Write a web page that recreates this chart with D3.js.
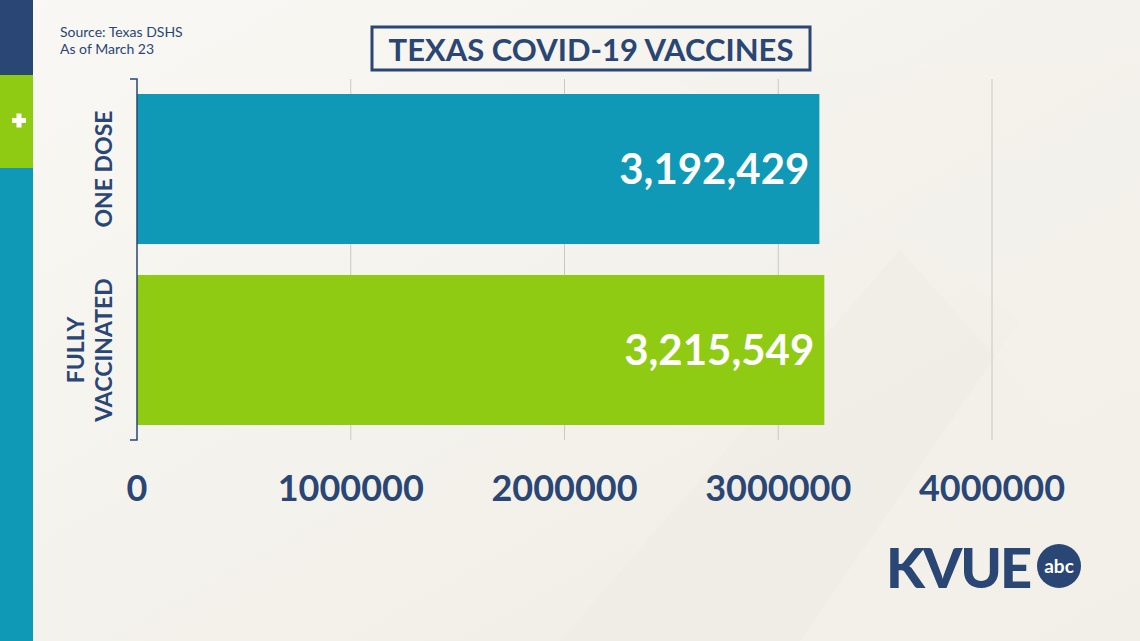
<!DOCTYPE html>
<html><head><meta charset="utf-8">
<script src="https://cdn.jsdelivr.net/npm/d3@7"></script>
<style>body{margin:0;background:#f6f4ef;}svg{display:block;font-family:Lato,"Open Sans",sans-serif;}</style>
</head><body>
<script>
var categories = [['ONE DOSE'], ['FULLY', 'VACCINATED']];
var values = [3192429, 3215549];
var barColors = ['#0f99b6', '#8fcb12'];
var ticks = [0, 1000000, 2000000, 3000000, 4000000];

var navy = '#2a4674';
var svg = d3.select('body').append('svg').attr('width', 1140).attr('height', 641);

// background
var bg = svg.append('defs').append('linearGradient').attr('id', 'bg')
    .attr('x1', '0').attr('y1', '0').attr('x2', '1').attr('y2', '1');
bg.append('stop').attr('offset', '0').attr('stop-color', '#f9f8f4');
bg.append('stop').attr('offset', '1').attr('stop-color', '#efece4');
svg.append('rect').attr('width', 1140).attr('height', 641).attr('fill', 'url(#bg)');
svg.append('path').attr('d', 'M560,641 L900,250 L1140,520 L1140,641 Z').attr('fill', '#efece5').attr('opacity', 0.7);
svg.append('path').attr('d', 'M680,80 L1020,320 L800,641 L1140,641 L1140,60 Z').attr('fill', '#f3f1eb').attr('opacity', 0.6);

// left strip
svg.append('rect').attr('x', 0).attr('y', 0).attr('width', 33).attr('height', 75).attr('fill', '#2a4674');
svg.append('rect').attr('x', 0).attr('y', 75).attr('width', 33).attr('height', 93).attr('fill', '#8fcb12');
svg.append('rect').attr('x', 0).attr('y', 168).attr('width', 33).attr('height', 473).attr('fill', '#0f99b6');
svg.append('path').attr('d', 'M12,118h4.5v-4.5h5v4.5h4.5v5h-4.5v4.5h-5v-4.5h-4.5z').attr('fill', '#fff');

svg.append('text').attr('x', 60).attr('y', 37).attr('font-size', 14).attr('fill', navy).text('Source: Texas DSHS');
svg.append('text').attr('x', 60).attr('y', 54).attr('font-size', 14).attr('fill', navy).text('As of March 23');

// title
svg.append('rect').attr('x', 372).attr('y', 27).attr('width', 438).attr('height', 43)
    .attr('fill', 'none').attr('stroke', navy).attr('stroke-width', 3);
svg.append('text').attr('x', 591).attr('y', 61).attr('text-anchor', 'middle').attr('font-size', 31)
    .attr('font-weight', 'bold').attr('fill', navy).text('TEXAS COVID-19 VACCINES');

var x = d3.scaleLinear().domain([0, 4000000]).range([137, 992]);
var y = d3.scaleBand().domain(d3.range(values.length)).range([94, 425]).paddingInner(0.171).paddingOuter(0);

// gridlines
svg.selectAll('.grid').data(ticks.slice(1)).enter().append('line')
    .attr('x1', x).attr('x2', x).attr('y1', 79).attr('y2', 440)
    .attr('stroke', '#c8c8c8').attr('stroke-width', 1);

svg.selectAll('.bar').data(values).enter().append('rect')
    .attr('x', x(0)).attr('y', function (d, i) { return y(i); })
    .attr('width', function (d) { return x(d) - x(0); }).attr('height', y.bandwidth())
    .attr('fill', function (d, i) { return barColors[i]; });

svg.selectAll('.val').data(values).enter().append('text')
    .attr('x', function (d) { return x(d) - 10; })
    .attr('y', function (d, i) { return y(i) + y.bandwidth() / 2 + 15; })
    .attr('text-anchor', 'end').attr('font-size', 42).attr('font-weight', 'bold').attr('fill', '#fff')
    .text(d3.format(','));

// y axis line
svg.append('path').attr('d', 'M130,79H137V440H130').attr('fill', 'none').attr('stroke', navy).attr('stroke-width', 1.5);

categories.forEach(function (lines, i) {
    var cy = y(i) + y.bandwidth() / 2;
    var t = svg.append('text').attr('transform', 'translate(112,' + cy + ') rotate(-90)')
        .attr('text-anchor', 'middle').attr('font-size', 23).attr('font-weight', 'bold').attr('fill', navy);
    lines.forEach(function (s, j) {
        t.append('tspan').attr('x', 0).attr('dy', j === 0 ? -(lines.length - 1) * 28 : 28).text(s);
    });
});

svg.selectAll('.tick').data(ticks).enter().append('text')
    .attr('x', x).attr('y', 501).attr('text-anchor', 'middle')
    .attr('font-size', 36).attr('font-weight', 'bold').attr('fill', navy).text(String);

// logo
svg.append('text').attr('x', 886).attr('y', 588).attr('font-size', 56).attr('font-weight', 900)
    .attr('fill', navy).attr('letter-spacing', -2).text('KVUE');
svg.append('circle').attr('cx', 1059).attr('cy', 566).attr('r', 22).attr('fill', navy);
svg.append('text').attr('x', 1059).attr('y', 573).attr('text-anchor', 'middle').attr('font-size', 19)
    .attr('font-weight', 'bold').attr('fill', '#fff').text('abc');
</script>
</body></html>
